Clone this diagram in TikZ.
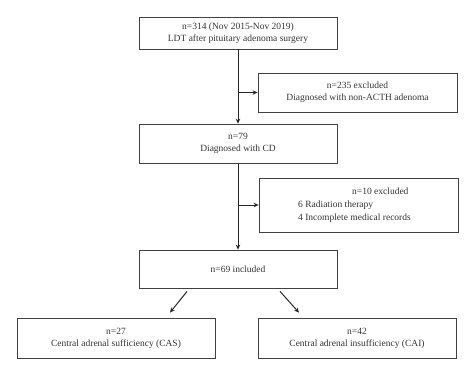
\documentclass[tikz,border=0pt]{standalone}
\usepackage{fontspec}
\setmainfont{Liberation Serif}
\usetikzlibrary{arrows.meta}
\begin{document}
\begin{tikzpicture}[x=1pt,y=1pt,
  box/.style={draw=black!75, line width=0.8pt, minimum width=198pt, inner sep=0pt,
    align=center, font=\fontsize{9.5}{12}\selectfont, text=black!80},
  txt/.style={anchor=west, inner sep=0pt, font=\fontsize{9.5}{12}\selectfont, text=black!80},
  conn/.style={line width=1pt, black!85},
  arr/.style={conn, -{Stealth[length=5pt,width=4.5pt]}}]
\useasboundingbox (0,0) rectangle (474,-375);
\node[box, minimum height=32pt] (b1) at (238,-33) {n=314 (Nov 2015-Nov 2019)\\LDT after pituitary adenoma surgery};
\node[box, minimum width=199pt, minimum height=39pt] (b2) at (357.5,-92.5) {n=235 excluded\\Diagnosed with non-ACTH adenoma};
\node[box, minimum height=39pt] (b3) at (238,-143.5) {n=79\\Diagnosed with CD};
\node[box, minimum width=199pt, minimum height=54pt] (b4) at (358.5,-205) {};
\node[txt] (t4a) at (352,-191) {n=10 excluded};
\node[txt] (t4b) at (298,-205.5) {6 Radiation therapy};
\node[txt] (t4c) at (298,-218.5) {4 Incomplete medical records};
\node[box, minimum height=38pt] (b5) at (238,-269) {n=69 included};
\node[box, minimum height=40pt] (b6) at (116,-338) {n=27\\Central adrenal sufficiency (CAS)};
\node[box, minimum height=40pt] (b7) at (357,-338) {n=42\\Central adrenal insufficiency (CAI)};
\draw[arr] (b1.south) -- (b3.north);
\draw[arr] (b1.south |- b2.west) -- (b2.west);
\draw[arr] (b3.south) -- (b5.north);
\draw[arr] (b3.south |- b4.west) -- (b4.west);
\draw[arr] ([xshift=-51pt,yshift=-3pt]b5.south) -- ([xshift=54pt,yshift=5pt]b6.north);
\draw[arr] ([xshift=42pt,yshift=-3pt]b5.south) -- ([xshift=-58pt,yshift=5pt]b7.north);
\end{tikzpicture}
\end{document}
